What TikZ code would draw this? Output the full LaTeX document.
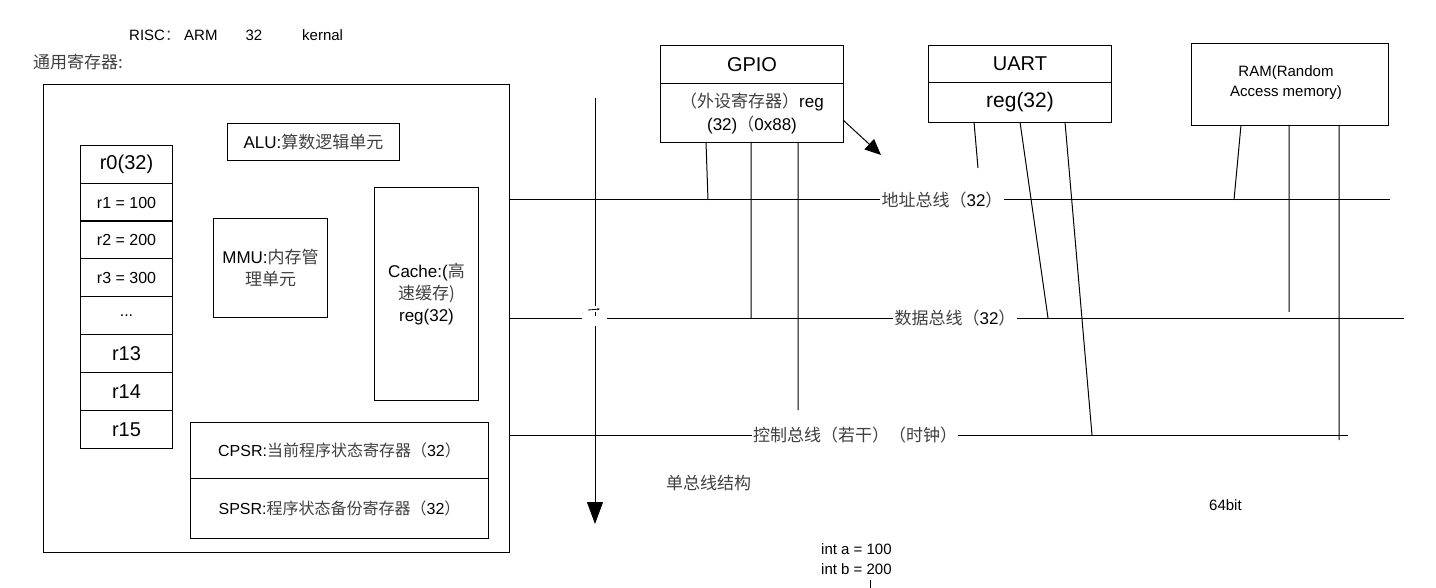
\documentclass[tikz,border=0pt]{standalone}
\usepackage{fontspec}
\setmainfont{Liberation Sans}
\newfontfamily\cjk{Noto Sans CJK SC}
\newcommand\zh[1]{{\cjk\color{black!75}#1}}
\usetikzlibrary{arrows.meta}
\begin{document}
\begin{tikzpicture}[x=1pt,y=-1pt,
  box/.style={draw,line width=1pt,inner sep=0pt},
  ln/.style={line width=1pt},
  lbl/.style={font=\fontsize{17}{19}\selectfont,inner sep=1pt},
  reg/.style={font=\fontsize{16}{18}\selectfont},
  big/.style={font=\fontsize{20}{22}\selectfont}]
\useasboundingbox (0,0) rectangle (1436,588);
% top texts
\node[lbl,anchor=west,font=\fontsize{15}{17}\selectfont] (title) at (128,35) {RISC\zh{：} ARM\hspace{28pt}32\hspace{40pt}kernal};
\node[lbl,anchor=west] (tongyong) at (32,62) {\zh{通用寄存器:}};
% big box
\node[box,minimum width=466,minimum height=468,anchor=north west] (cpu) at (43,84) {};
% registers
\foreach \t/\y/\s [count=\i] in {{r0(32)}/145/big,{r1 = 100}/183/reg,{r2 = 200}/220/reg,{r3 = 300}/258/reg,{...}/296/reg,{r13}/334/big,{r14}/372/big,{r15}/410/big}{
  \node[box,minimum width=92,minimum height=38,anchor=north west,\s] (r\i) at (80,\y) {\t};
}
\node[box,minimum width=172,minimum height=37,anchor=north west,font=\fontsize{17}{19}\selectfont] (alu) at (227,123) {ALU:\zh{算数逻辑单元}};
\node[box,minimum width=114,minimum height=99,anchor=north west] (mmu) at (213,218) {};
\node[align=center,font=\fontsize{17}{22}\selectfont] (mmut) at (mmu.center) {MMU:\zh{内存管}\\\zh{理单元}};
\node[box,minimum width=104,minimum height=213,anchor=north west] (cache) at (374,187) {};
\node[align=center,font=\fontsize{17}{22}\selectfont] (cachet) at (cache.center) {Cache:(\zh{高}\\\zh{速缓存)}\\reg(32)};
\node[box,minimum width=298,minimum height=56,anchor=north west,font=\fontsize{16}{18}\selectfont] (cpsr) at (190,422) {CPSR:\zh{当前程序状态寄存器（}32\zh{）}};
\node[box,minimum width=298,minimum height=60,anchor=north west,font=\fontsize{16}{18}\selectfont] (spsr) at (190,478) {SPSR:\zh{程序状态备份寄存器（}32\zh{）}};
% vertical arrow
\coordinate (va) at (595,98);
\coordinate (vb) at (595,524);
\draw[ln,-{Triangle[length=22pt,width=16pt]}] (va) -- (vb);
% buses
\coordinate (a0) at (509,200); \coordinate (a1) at (1390,200);
\coordinate (d0) at (509,318.5); \coordinate (d1) at (1404,318.5);
\coordinate (c0) at (509,435); \coordinate (c1) at (1348,435);
\node[lbl,fill=white] (al) at (942,200) {\zh{地址总线（}32\zh{）}};
\node[lbl,fill=white] (dl) at (955,318.5) {\zh{数据总线（}32\zh{）}};
\node[lbl,fill=white] (cl) at (855,435) {\zh{控制总线（若干）（时钟）}};
\draw[ln] (a0) -- (al.west) (al.east) -- (a1);
\coordinate (g1) at (582,318.5); \coordinate (g2) at (607,318.5);
\draw[ln] (d0) -- (g1) (g2) -- (dl.west) (dl.east) -- (d1);
\fill[white] (583,306) rectangle (606,326);
\draw[line width=0.8pt,-{Stealth[length=3pt]}] (588,310) -- (600,309);
\draw[line width=0.8pt] (595,312) -- (595,316);
\draw[ln] (c0) -- (cl.west) (cl.east) -- (c1);
% GPIO
\node[box,minimum width=183,minimum height=38,anchor=north west,big] (gpio) at (660,45) {GPIO};
\node[box,minimum width=183,minimum height=59,anchor=north west,align=center,font=\fontsize{17}{23}\selectfont] (gpior) at (660,83) {\zh{（外设寄存器）}reg\\(32)\zh{（}0x88)};
\coordinate (gp1) at (706,142); \coordinate (gp1b) at (708,200);
\coordinate (gp2) at (751,142); \coordinate (gp2b) at (751,318);
\coordinate (gp3) at (798,142); \coordinate (gp3b) at (798,410);
\draw[ln] (gp1) -- (gp1b) (gp2) -- (gp2b) (gp3) -- (gp3b);
\coordinate (ar1) at (843,120); \coordinate (ar2) at (881,155);
\draw[ln,-{Triangle[length=16pt,width=14pt]}] (ar1) -- (ar2);
% UART
\node[box,minimum width=183,minimum height=37,anchor=north west,big] (uart) at (928,45) {UART};
\node[box,minimum width=183,minimum height=40,anchor=north west,font=\fontsize{21}{23}\selectfont] (uartr) at (928,82) {reg(32)};
\coordinate (u1) at (974,122); \coordinate (u1b) at (978,168);
\coordinate (u2) at (1020,122); \coordinate (u2b) at (1048,318);
\coordinate (u3) at (1065,122); \coordinate (u3b) at (1092,435);
\draw[ln] (u1) -- (u1b) (u2) -- (u2b) (u3) -- (u3b);
% RAM
\node[box,minimum width=197,minimum height=82,anchor=north west] (ram) at (1191,43) {};
\node[align=center,font=\fontsize{15}{20}\selectfont,anchor=north] (ramt) at (1286,62) {RAM(Random\\Access memory)};
\coordinate (m1) at (1241,125); \coordinate (m1b) at (1234,200);
\coordinate (m2) at (1289,125); \coordinate (m2b) at (1289,312);
\coordinate (m3) at (1339,125); \coordinate (m3b) at (1339,440);
\draw[ln] (m1) -- (m1b) (m2) -- (m2b) (m3) -- (m3b);
% misc text
\node[lbl,anchor=west] (dan) at (665,483) {\zh{单总线结构}};
\node[lbl,anchor=west,font=\fontsize{15}{17}\selectfont] (bit) at (1208,505) {64bit};
\node[lbl,anchor=west,align=left,font=\fontsize{15}{20}\selectfont] (inta) at (820,559) {int a = 100\\int b = 200};
\draw[line width=0.8pt] (870,580) -- (870,588);
\end{tikzpicture}
\end{document}
